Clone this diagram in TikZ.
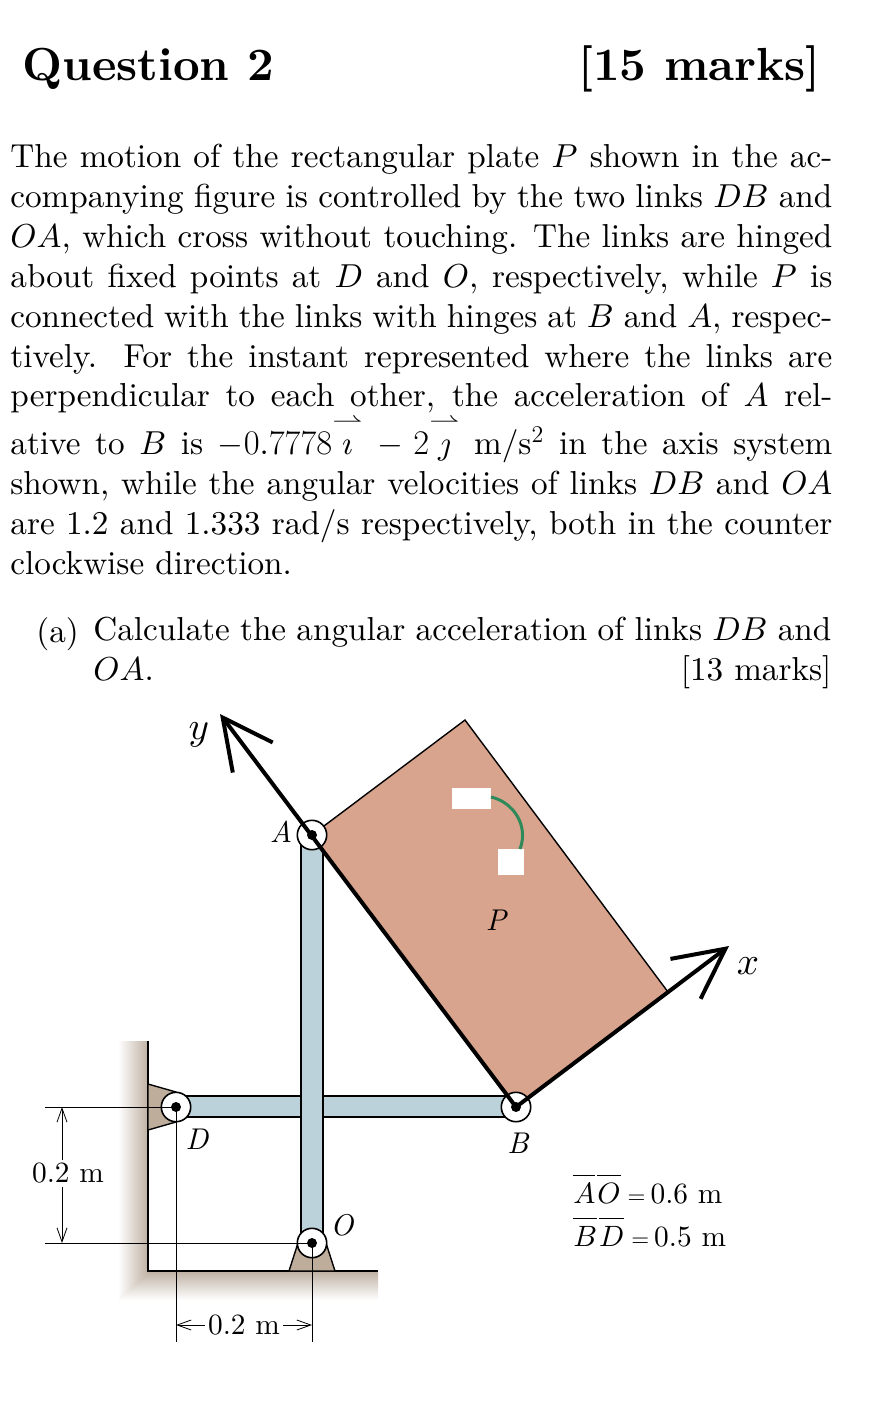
\documentclass[tikz,border=0pt]{standalone}
\usepackage{amsmath}
\usepackage{amssymb}
\usepackage{graphicx}
\usepackage{fontspec}
\usetikzlibrary{arrows.meta}
\setmainfont{lmroman10-regular}[Extension=.otf, BoldFont=lmroman10-bold, ItalicFont=lmroman10-italic]
% math in the 10pt design at every size
\DeclareFontFamily{OML}{plainmm}{\skewchar\font=127}
\DeclareFontShape{OML}{plainmm}{m}{it}{<->cmmi10}{}
\DeclareFontFamily{OMS}{plainsy}{\skewchar\font=48}
\DeclareFontShape{OMS}{plainsy}{m}{n}{<->cmsy10}{}
\DeclareFontFamily{OT1}{plainrm}{\hyphenchar\font=45}
\DeclareFontShape{OT1}{plainrm}{m}{n}{<->cmr10}{}
\DeclareSymbolFont{letters}{OML}{plainmm}{m}{it}
\DeclareSymbolFont{symbols}{OMS}{plainsy}{m}{n}
\DeclareSymbolFont{operators}{OT1}{plainrm}{m}{n}
\newcommand{\unitvec}[1]{\overset{\scalebox{1.3}[1]{$\scriptstyle\rightharpoonup$}}{\rule{0pt}{10.5pt}#1}}
\newcommand{\barlen}[1]{\overline{\rule{0pt}{11.5pt}#1}}
\definecolor{linkblue}{HTML}{BCD2DA}
\definecolor{platered}{HTML}{D9A48D}
\definecolor{mountbrown}{HTML}{BFAD9B}
\definecolor{wallbrown}{HTML}{BFB1A3}
\definecolor{arcgreen}{HTML}{2F8A5B}
\tikzset{
	bodytext/.style={inner sep=0pt, anchor=north west, font=\fontsize{16.6}{19.92}\selectfont},
	headtext/.style={inner sep=0pt, font=\fontsize{23.2}{28}\selectfont\bfseries},
	hinge/.style={circle, draw, fill=white, line width=0.8pt, minimum size=14.7pt, inner sep=0pt},
	pin/.style={circle, fill=black, minimum size=5pt, inner sep=0pt},
	thinline/.style={line width=0.4pt},
	axisline/.style={line width=2pt, -{Straight Barb[length=25pt,width=25pt,line width=2pt]}},
	dimarrow/.style={thinline, -{Straight Barb[length=7pt,width=5pt,line width=0.4pt]}},
	figlabel/.style={inner sep=0pt, font=\itshape\fontsize{15}{15}\selectfont},
	figtext/.style={inner sep=0pt, font=\fontsize{14.7}{16}\selectfont},
	axislabel/.style={inner sep=0pt, font=\fontsize{19.5}{20}\selectfont}
}
\begin{document}
\begin{tikzpicture}[x=0.5pt, y=-0.5pt]
	\useasboundingbox (0,0) rectangle (894,1404);
	% Text
	\node[headtext, anchor=base west] (title) at (22,80) {Question 2};
	\node[headtext, anchor=base east] (marks) at (821,80) {[15 marks]};
	\node[bodytext, text width=411pt, align=justify] (para) at (10,144) {The motion of the rectangular plate $P$ shown in the accompanying figure is controlled by the two links $DB$ and $OA$, which cross without touching. The links are hinged about fixed points at $D$ and $O$, respectively, while $P$ is connected with the links with hinges at $B$ and $A$, respectively. For the instant represented where the links are perpendicular to each other, the acceleration of $A$ rel\-ative to $B$ is $-0.7778\unitvec{\imath}\,-2\unitvec{\jmath}$~m/s$^2$ in the axis system shown, while the angular velocities of links $DB$ and $OA$ are 1.2 and 1.333 rad/s respectively, both in the counter clockwise direction.};
	\node[bodytext] (parta) at (36,617) {(a)};
	\node[bodytext, text width=369pt, align=justify] (item) at (93,617) {Calculate the angular acceleration of links $DB$ and $OA$.\hfill [13 marks]};
	% Points
	\coordinate (A) at (312,835);
	\coordinate (B) at (516,1107);
	\coordinate (D) at (176,1107);
	\coordinate (O) at (312,1243);
	\coordinate (top) at (465,720);
	\coordinate (right) at (668,992);
	\coordinate (xtip) at (729,946);
	\coordinate (ytip) at (220,714);
	% Wall and floor
	\shade[left color=white, right color=wallbrown] (118,1041) -- (148,1041) -- (148,1271) -- (118,1300) -- cycle;
	\shade[top color=wallbrown, bottom color=white] (118,1300) -- (148,1271) -- (378,1271) -- (378,1300) -- cycle;
	\draw[line width=0.8pt] (148,1041) -- (148,1271) -- (378,1271);
	% Mounts
	\draw[line width=0.7pt, fill=mountbrown] (148,1084) -- (176,1092) -- (176,1122) -- (148,1130) -- cycle;
	\draw[line width=0.7pt, fill=mountbrown] (289,1271) -- (298,1243) -- (326,1243) -- (335,1271) -- cycle;
	% Links
	\fill[linkblue] (176,1096) rectangle (516,1117);
	\draw[line width=0.7pt] (176,1096) -- (301,1096) (323,1096) -- (516,1096);
	\draw[line width=1.2pt] (176,1117) -- (301,1117) (323,1117) -- (516,1117);
	\fill[linkblue] (301,835) rectangle (323,1243);
	\draw[line width=0.9pt] (301,835) -- (301,1243);
	\draw[line width=1.2pt] (323,835) -- (323,1243);
	% Plate
	\fill[platered] (A) -- (top) -- (right) -- (B) -- cycle;
	\draw[line width=0.7pt] (A) -- (top) -- (right);
	\fill[white] (452,788) rectangle (491,809);
	\fill[white] (498,849) rectangle (524,875);
	\draw[arcgreen, line width=1.5pt] (491,797) .. controls (513,802) and (529,825) .. (520,849);
	% Hinges
	\foreach \p in {A,B,D,O} {
		\node[hinge] (hinge\p) at (\p) {};
	}
	\foreach \p in {A,B,D,O} {
		\node[pin] (pin\p) at (\p) {};
	}
	% Axes
	\draw[axisline] (B) -- (xtip);
	\draw[axisline] (B) -- (ytip);
	% Dimensions
	\coordinate (d1) at (45,1107);
	\coordinate (d2) at (45,1243);
	\coordinate (d3) at (176,1342);
	\coordinate (d4) at (312,1342);
	\coordinate (v1) at (62,1107);
	\coordinate (v2) at (62,1243);
	\coordinate (h1) at (176,1325);
	\coordinate (h2) at (312,1325);
	\draw[thinline] (d1) -- (D);
	\draw[thinline] (d2) -- (O);
	\draw[thinline] (D) -- (d3);
	\draw[thinline] (O) -- (d4);
	\node[figtext] (dimv) at (68,1173) {0.2 m};
	\node[figtext] (dimh) at (244,1325) {0.2 m};
	\draw[dimarrow] (dimv.north -| v1) ++(0,-3) coordinate (v1s) -- (v1);
	\draw[dimarrow] (dimv.south -| v2) ++(0,3) coordinate (v2s) -- (v2);
	\draw[dimarrow] (dimh.west) ++(-3,0) coordinate (h1s) -- (h1);
	\draw[dimarrow] (dimh.east) ++(3,0) coordinate (h2s) -- (h2);
	% Labels
	\node[figlabel] (labA) at (281,832) {A};
	\node[figlabel] (labB) at (518,1143) {B};
	\node[figlabel] (labD) at (197,1139) {D};
	\node[figlabel] (labO) at (342,1225) {O};
	\node[figlabel] (labP) at (496,920) {P};
	\node[axislabel] (labx) at (748,966) {$x$};
	\node[axislabel] (laby) at (199,735) {$y$};
	\node[figtext, anchor=base west] (lenAO) at (573,1203) {$\barlen{A}\kern1pt\barlen{O}$\kern3.5pt{\fontsize{11.5}{12}\selectfont =}\kern2.5pt0.6 m};
	\node[figtext, anchor=base west] (lenBD) at (573,1246) {$\barlen{B}\kern1pt\barlen{D}$\kern3.5pt{\fontsize{11.5}{12}\selectfont =}\kern2.5pt0.5 m};
\end{tikzpicture}
\end{document}
